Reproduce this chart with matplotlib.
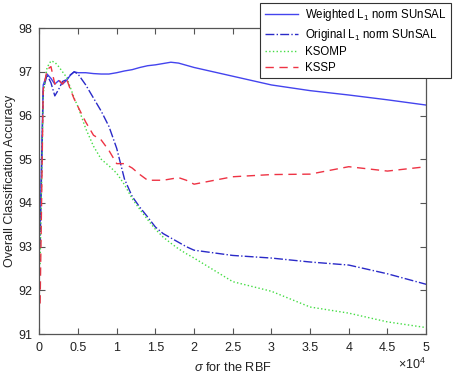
import matplotlib.pyplot as plt
from matplotlib.ticker import FuncFormatter

plt.rcParams['font.family'] = ['Liberation Sans', 'DejaVu Sans']
plt.rcParams['mathtext.fontset'] = 'custom'
plt.rcParams['mathtext.rm'] = 'Liberation Sans'
plt.rcParams['mathtext.it'] = 'Liberation Sans:italic'

# sigma values of the RBF kernel
sigma = [100, 500, 1000, 1500, 2000, 2500, 3000, 3500, 4000, 4500, 5000,
         6000, 7000, 8000, 9000, 10000, 11000, 12000, 13000, 14000, 15000,
         16000, 17000, 18000, 19000, 20000, 25000, 30000, 35000, 40000,
         45000, 50000]

weighted = [93.5, 96.7, 96.95, 96.85, 96.72, 96.8, 96.72, 96.8, 96.92, 97.0, 96.98,
            96.98, 96.96, 96.95, 96.95, 96.98, 97.02, 97.05, 97.1, 97.14, 97.16,
            97.19, 97.22, 97.2, 97.15, 97.1, 96.9, 96.7, 96.57, 96.47,
            96.36, 96.24]

original = [93.0, 96.6, 96.93, 96.75, 96.45, 96.6, 96.78, 96.82, 96.93, 97.0, 96.95,
            96.7, 96.4, 96.1, 95.75, 95.25, 94.55, 94.15, 93.9, 93.68, 93.45,
            93.3, 93.2, 93.1, 93.0, 92.92, 92.8, 92.74, 92.65, 92.58,
            92.38, 92.14]

ksomp = [92.6, 96.5, 97.1, 97.25, 97.22, 97.12, 97.0, 96.88, 96.65, 96.4, 96.2,
         95.7, 95.3, 95.0, 94.85, 94.68, 94.42, 94.1, 93.85, 93.62, 93.4,
         93.22, 93.08, 92.95, 92.84, 92.74, 92.2, 91.98, 91.62, 91.48,
         91.28, 91.15]

kssp = [91.7, 96.6, 97.05, 97.12, 96.72, 96.82, 96.72, 96.85, 96.6, 96.38, 96.2,
        95.85, 95.55, 95.44, 95.2, 94.9, 94.9, 94.8, 94.65, 94.52, 94.52,
        94.52, 94.55, 94.58, 94.52, 94.43, 94.6, 94.65, 94.66, 94.83,
        94.73, 94.83]

fig = plt.figure(figsize=(4.74, 3.75), dpi=100)
ax = fig.add_axes([0.083, 0.109, 0.816, 0.816])

ax.plot(sigma, weighted, '-', color='#4444ee', lw=1.0, label='Weighted L$_1$ norm SUnSAL')
ax.plot(sigma, original, '-.', color='#2a2ac8', lw=1.0, label='Original L$_1$ norm SUnSAL')
ax.plot(sigma, ksomp, ':', color='#44dd44', lw=1.0, label='KSOMP')
ax.plot(sigma, kssp, '--', color='#ee3344', lw=1.0, label='KSSP', dashes=(6, 4))

ax.set_xlim(0, 50000)
ax.set_ylim(91, 98)
ax.set_xticks([i * 5000 for i in range(11)])
ax.set_yticks(range(91, 99))
ax.xaxis.set_major_formatter(FuncFormatter(lambda v, p: f'{v / 1e4:g}'))
ax.tick_params(direction='in', top=True, right=True, length=4, width=0.8,
               colors='#555555', labelcolor='#222222', labelsize=9)
ax.tick_params(axis='x', pad=6)
ax.tick_params(axis='y', pad=5)
for s in ax.spines.values():
    s.set_color('#555555')
    s.set_linewidth(0.9)

ax.text(1.0, -0.10, r'$\times\mathregular{10^4}$', transform=ax.transAxes, ha='right',
        va='center', fontsize=9, color='#222222')
ax.set_xlabel(r'$\sigma$ for the RBF', fontsize=9.2, color='#222222', labelpad=5)
ax.set_ylabel('Overall Classification Accuracy', fontsize=9, color='#222222', labelpad=2)

leg = ax.legend(loc='upper right', bbox_to_anchor=(0.952, 0.993),
                bbox_transform=fig.transFigure, fontsize=8.3, fancybox=False,
                framealpha=1, edgecolor='#333333', handlelength=2.9,
                borderpad=0.4, labelspacing=0.3, handletextpad=0.6,
                borderaxespad=0)
leg.get_frame().set_linewidth(0.8)

fig.savefig('out.png', dpi=100)
